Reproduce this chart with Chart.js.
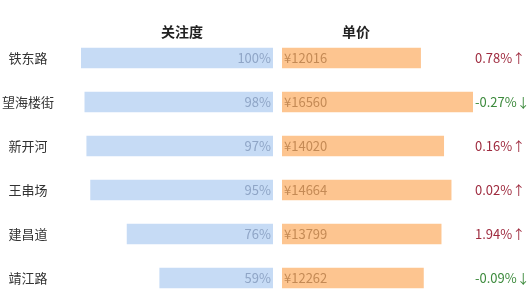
<!DOCTYPE html>
<html>
<head>
<meta charset="utf-8">
<script src="https://cdn.jsdelivr.net/npm/chart.js@4/dist/chart.umd.min.js"></script>
<style>
  body { margin: 0; background: #fff; font-family: "Noto Sans CJK SC", sans-serif; }
  #wrap { position: relative; width: 530px; height: 300px; overflow: hidden; }
  canvas { position: absolute; top: 0; }
  .head { position: absolute; top: 20px; font-size: 14px; font-weight: bold; color: #222; text-align: center; line-height: 22px; }
</style>
</head>
<body>
<div id="wrap">
  <canvas id="attnChart" width="280" height="300" style="left:0"></canvas>
  <canvas id="priceChart" width="250" height="300" style="left:280px"></canvas>
  <div class="head" style="left:142px;width:80px">关注度</div>
  <div class="head" style="left:316px;width:80px">单价</div>
</div>
<script>
// 데이터
const districts = ['铁东路', '望海楼街', '新开河', '王串场', '建昌道', '靖江路'];
const attention = [100, 98, 97, 95, 76, 59];        // 关注度 (%)
const prices = [12016, 16560, 14020, 14664, 13799, 12262]; // 单价 (¥)
const changes = [0.78, -0.27, 0.16, 0.02, 1.94, -0.09];   // 涨跌 (%)

const FONT = '"Noto Sans CJK SC", "Noto Sans", sans-serif';
const PRICE_MAX = 16560;

// 막대 안에 값 글자를 그린다
const attnLabels = {
    id: 'attnLabels',
    afterDatasetsDraw(chart) {
        const ctx = chart.ctx;
        const x0 = chart.scales.x.getPixelForValue(0);
        ctx.save();
        ctx.font = '13px ' + FONT;
        ctx.fillStyle = '#8fa5c6';
        ctx.textAlign = 'right';
        ctx.textBaseline = 'middle';
        chart.getDatasetMeta(0).data.forEach((bar, i) => {
            ctx.fillText(attention[i] + '%', x0 - 2, bar.y);
        });
        ctx.restore();
    }
};

const priceLabels = {
    id: 'priceLabels',
    afterDatasetsDraw(chart) {
        const ctx = chart.ctx;
        const x0 = chart.scales.x.getPixelForValue(0);
        const right = chart.chartArea.right;
        ctx.save();
        ctx.font = '13px ' + FONT;
        ctx.textBaseline = 'middle';
        chart.getDatasetMeta(0).data.forEach((bar, i) => {
            ctx.textAlign = 'left';
            ctx.fillStyle = '#c48a55';
            ctx.fillText('¥' + prices[i], x0 + 2, bar.y);
            const c = changes[i];
            ctx.fillStyle = c >= 0 ? '#9e2a3e' : '#3c8a3c';
            ctx.fillText(c.toFixed(2) + '%' + (c >= 0 ? '↑' : '↓'), right + 2, bar.y);
        });
        ctx.restore();
    }
};

// 왼쪽: 关注度
new Chart(document.getElementById('attnChart'), {
    type: 'bar',
    data: {
        labels: districts,
        datasets: [{
            data: attention,
            backgroundColor: '#c6dbf5',
            barThickness: 20
        }]
    },
    options: {
        indexAxis: 'y',
        responsive: false,
        animation: false,
        layout: { padding: { top: 36, right: 7, bottom: 0, left: 0 } },
        plugins: { legend: { display: false }, tooltip: { enabled: false } },
        scales: {
            x: { display: false, reverse: true, min: 0, max: 100 },
            y: {
                grid: { display: false, drawTicks: false },
                border: { display: false },
                ticks: {
                    crossAlign: 'center',
                    padding: 27,
                    color: '#333',
                    font: { family: FONT, size: 13 }
                },
                // 축 폭 고정, 위아래 여백은 없앤다
                afterFit: s => { s.width = 81; s.paddingTop = 0; s.paddingBottom = 0; }
            }
        }
    },
    plugins: [attnLabels]
});

// 오른쪽: 单价
new Chart(document.getElementById('priceChart'), {
    type: 'bar',
    data: {
        labels: districts,
        datasets: [{
            data: prices,
            backgroundColor: '#fdc590',
            barThickness: 20
        }]
    },
    options: {
        indexAxis: 'y',
        responsive: false,
        animation: false,
        layout: { padding: { top: 36, right: 57, bottom: 0, left: 2 } },
        plugins: { legend: { display: false }, tooltip: { enabled: false } },
        scales: {
            x: { display: false, min: 0, max: PRICE_MAX },
            y: { display: false }
        }
    },
    plugins: [priceLabels]
});
</script>
</body>
</html>
